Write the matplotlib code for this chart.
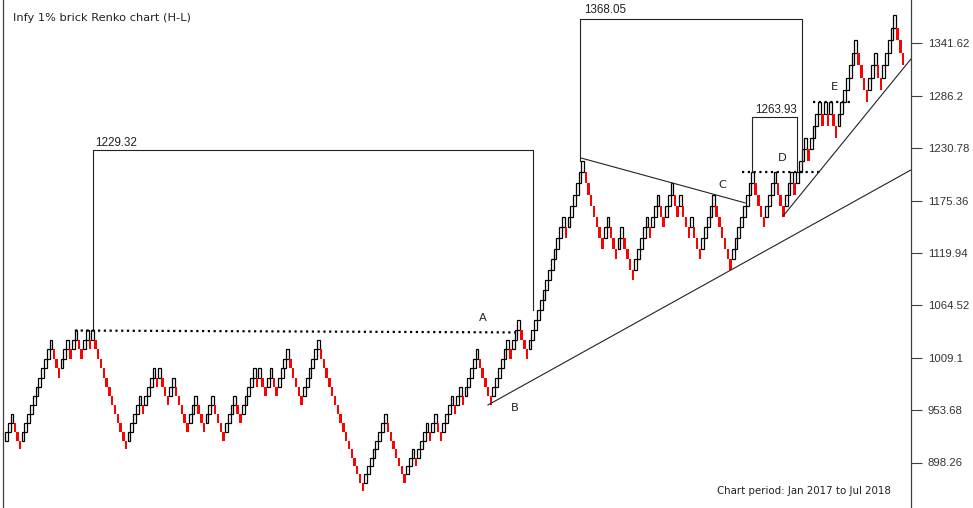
import numpy as np
import matplotlib
matplotlib.use("Agg")
import matplotlib.pyplot as plt
from matplotlib.patches import Rectangle

# ---------------- data ----------------
brick_pct = 1.0                 # 1 % bricks
base_price = 903.37             # price of brick level 0
start_level = 2                 # bottom of first brick (level index)
# signed run lengths of consecutive bricks (+ up / - down)
runs = [3, -3, 11, -3, 3, -1, 2, -2, 2, -1, 1, -12,
        5, -1, 4, -1, 1, -3, 2, -5, 3, -3, 3, -4,
        4, -2, 5, -1, 1, -2, 2, -2, 4, -5, 6, -16,
        8, -7, 3, -1, 4, -1, 2, -2, 4, -1, 2, -1,
        5, -5, 6, -1, 3, -3, 13, -1, 6, -7, 2, -3,
        2, -4, 5, -1, 3, -2, 3, -2, 1, -3, 1, -3,
        5, -6, 8, -4, 4, -3, 3, -1, 4, -1, 4, -1,
        1, -1, 1, -2, 7, -4, 3, -2, 5, -3]
ytick_values = [898.26, 953.68, 1009.1, 1064.52, 1119.94, 1175.36, 1230.78, 1286.2, 1341.62]
ytick_labels = ["898.26", "953.68", "1009.1", "1064.52", "1119.94", "1175.36", "1230.78", "1286.2", "1341.62"]
title_text = "Infy 1% brick Renko chart (H-L)"
period_text = "Chart period: Jan 2017 to Jul 2018"
box_targets = [1229.32, 1368.05, 1263.93]

# ---------------- build bricks ----------------
def level_price(k):
    return base_price * (1 + brick_pct / 100.0) ** k

bricks = []  # (lo_level, hi_level, dir)
lo, hi = start_level - 1, start_level
for r in runs:
    d = 1 if r > 0 else -1
    for _ in range(abs(r)):
        if d > 0:
            lo, hi = hi, hi + 1
        else:
            lo, hi = lo - 1, lo
        bricks.append((lo, hi, d))

W, H = 973, 508
fig = plt.figure(figsize=(W / 100, H / 100), dpi=100)
fig.patch.set_facecolor("white")
ax_left_px, ax_right_px = 3, 911
ax = fig.add_axes([ax_left_px / W, 0, (ax_right_px - ax_left_px) / W, 1])

for i, (l, h, d) in enumerate(bricks):
    p0, p1 = level_price(l), level_price(h)
    if d > 0:
        ax.add_patch(Rectangle((i, p0), 1.0, p1 - p0, facecolor="white",
                               edgecolor="black", linewidth=0.9, zorder=3))
    else:
        ax.add_patch(Rectangle((i + 0.08, p0), 0.84, p1 - p0, facecolor="#ff0000",
                               edgecolor="none", linewidth=0, zorder=3))

px_per_brick = 2.785
ax.set_xlim(-2 / px_per_brick, (ax_right_px - 5) / px_per_brick)
y_top = 898.26 + 462.5 * 1.0581
y_bot = 898.26 - (H - 462.5) * 1.0581
ax.set_ylim(y_bot, y_top)

# spines / ticks
for s in ["top", "bottom"]:
    ax.spines[s].set_visible(False)
ax.spines["left"].set_color("#404040")
ax.spines["right"].set_color("#404040")
ax.spines["left"].set_linewidth(0.9)
ax.spines["right"].set_linewidth(0.9)
ax.set_xticks([])
ax.yaxis.tick_right()
ax.set_yticks(ytick_values)
ax.set_yticklabels(ytick_labels, fontfamily="Liberation Sans")
ax.tick_params(axis="y", direction="out", length=8, width=0.8, color="#404040",
               labelsize=8.2, labelcolor="#333333", pad=4)

lc = "#222222"
lw = 0.8
dots = dict(color="black", lw=1.6, ls=(0, (1, 1.6)), zorder=4)
# 1229.32 projection box
ax.plot([31.6, 31.6, 189.6, 189.6], [level_price(14), box_targets[0], box_targets[0], 1060],
        color=lc, lw=lw, zorder=4)
# 1368.05 projection box
ax.plot([206.5, 206.5, 286.2, 286.2], [level_price(30), box_targets[1], box_targets[1], 1213],
        color=lc, lw=lw, zorder=4)
# 1263.93 projection box
ax.plot([268.2, 268.2, 284.4, 284.4], [level_price(29), box_targets[2], box_targets[2], level_price(29)],
        color=lc, lw=lw, zorder=4)
# dotted resistance lines
ax.plot([25.1, 183.1], [level_price(14) - 0.5, level_price(14) - 2.5], **dots)
ax.plot([264.6, 293.4], [level_price(29), level_price(29)], **dots)
ax.plot([290.1, 304.1], [level_price(35), level_price(35)], **dots)
# trend lines
ax.plot([206.8, 265.7], [1220.5, 1173.0], color=lc, lw=lw, zorder=4)
ax.plot([173.4, 325.3], [959.1, 1207.8], color=lc, lw=lw, zorder=4)
ax.plot([279.4, 325.6], [1159.1, 1326.3], color=lc, lw=lw, zorder=4)

tk = dict(fontsize=8.2, color="#222222", zorder=5)
ax.text(171.6, 1051.2, "A", ha="center", va="center", **tk)
ax.text(183.1, 955.9, "B", ha="center", va="center", **tk)
ax.text(257.5, 1191.9, "C", ha="center", va="center", **tk)
ax.text(279.0, 1220.5, "D", ha="center", va="center", **tk)
ax.text(297.7, 1295.6, "E", ha="center", va="center", **tk)
nk = dict(fontsize=8.4, color="#222222", zorder=5, family="Liberation Sans")
ax.text(32.3, 1236.3, f"{box_targets[0]:.2f}", ha="left", va="center", **nk)
ax.text(207.9, 1377.0, f"{box_targets[1]:.2f}", ha="left", va="center", **nk)
ax.text(269.3, 1271.2, f"{box_targets[2]:.2f}", ha="left", va="center", **nk)

fig.text(13 / W, 1 - 18 / H, title_text, ha="left", va="center", fontsize=8.2, color="#222222")
fig.text(717 / W, 1 - 491 / H, period_text, ha="left", va="center", fontsize=7.4, color="#222222")

fig.savefig("out.png", dpi=100, facecolor="white")
